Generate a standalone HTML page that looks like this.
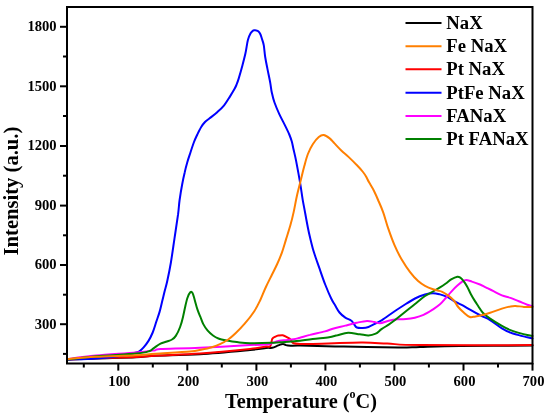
<!DOCTYPE html>
<html><head><meta charset="utf-8"><style>
html,body{margin:0;padding:0;background:#fff;}
body{width:550px;height:414px;overflow:hidden;}
svg{display:block;}
text{font-family:"Liberation Serif",serif;font-weight:bold;fill:#000;}
</style></head><body>
<svg width="550" height="414" viewBox="0 0 550 414">
<rect x="0" y="0" width="550" height="414" fill="#fff"/>
<g fill="none" stroke-width="2" stroke-linejoin="round" stroke-linecap="round">
<path d="M67.5,359.5 C72.2,359.3 84.6,358.9 96.0,358.5 C107.4,358.1 126.2,357.8 136.0,357.3 C145.8,356.9 144.3,356.3 155.0,355.8 C165.7,355.3 184.2,355.2 200.0,354.2 C215.8,353.2 239.0,351.0 250.0,350.0 C261.0,349.0 262.3,348.4 266.0,348.0 C269.7,347.6 270.1,348.2 272.2,347.8 C274.2,347.4 276.6,346.0 278.3,345.4 C280.1,344.8 281.4,343.9 282.7,343.9 C283.9,343.8 284.5,344.8 285.8,345.1 C287.1,345.4 288.3,345.6 290.7,345.7 C293.1,345.8 291.2,345.4 300.0,345.5 C308.8,345.6 327.2,346.2 343.6,346.6 C360.0,347.0 385.5,347.5 398.2,347.6 C410.9,347.7 409.7,347.3 420.0,347.0 C430.3,346.7 441.2,346.2 460.0,346.0 C478.8,345.8 520.4,345.6 532.5,345.5" stroke="#000000"/>
<path d="M67.5,359.5 C72.2,359.3 84.6,358.7 96.0,358.3 C107.4,357.9 125.3,357.6 136.0,357.1 C146.7,356.6 149.3,356.1 160.0,355.5 C170.7,354.9 185.0,354.5 200.0,353.4 C215.0,352.3 239.0,350.0 250.0,348.9 C261.0,347.8 262.6,347.1 266.0,346.6 C269.4,346.2 269.2,347.5 270.3,346.2 C271.4,344.9 271.4,340.4 272.3,338.8 C273.2,337.2 274.5,337.1 275.5,336.6 C276.5,336.1 277.1,335.8 278.3,335.6 C279.5,335.4 281.4,335.0 282.7,335.2 C284.0,335.4 285.3,336.2 286.4,336.8 C287.5,337.4 288.6,337.8 289.5,338.6 C290.4,339.4 291.1,340.7 291.8,341.5 C292.5,342.3 292.4,342.9 293.8,343.3 C295.2,343.7 297.3,343.8 300.0,343.9 C302.7,344.0 299.8,344.2 310.0,344.0 C320.2,343.8 348.2,342.7 361.1,342.6 C374.0,342.5 377.5,343.2 387.3,343.6 C397.1,344.0 395.8,344.9 420.0,345.1 C444.2,345.4 513.8,345.1 532.5,345.1" stroke="#FF0000"/>
<path d="M67.5,359.5 C72.2,359.3 87.2,359.0 96.0,358.4 C104.8,357.8 114.0,356.8 120.0,356.0 C126.0,355.2 128.8,354.3 132.0,353.6 C135.2,352.9 137.0,352.6 138.9,351.6 C140.8,350.6 141.8,349.5 143.4,347.7 C145.0,345.9 146.9,343.4 148.5,340.9 C150.1,338.4 151.4,335.6 152.7,332.5 C154.0,329.4 155.0,325.7 156.1,322.3 C157.2,318.9 158.5,315.5 159.5,312.1 C160.5,308.7 161.2,305.4 162.0,302.0 C162.8,298.6 163.7,295.2 164.5,291.8 C165.3,288.4 166.0,286.6 167.1,281.7 C168.2,276.8 169.7,269.7 170.9,262.5 C172.1,255.3 173.3,246.4 174.5,238.3 C175.7,230.2 177.2,220.6 178.1,214.2 C178.9,207.8 178.9,205.0 179.6,200.0 C180.3,195.0 181.3,188.8 182.2,184.2 C183.0,179.6 183.8,176.1 184.7,172.4 C185.5,168.7 186.3,165.6 187.3,162.2 C188.3,158.8 189.5,155.4 190.6,152.0 C191.7,148.6 192.9,144.9 194.0,142.0 C195.1,139.1 196.1,137.1 197.3,134.5 C198.6,131.9 200.2,128.6 201.5,126.5 C202.8,124.4 203.7,123.4 205.0,122.0 C206.3,120.6 207.6,119.9 209.6,118.3 C211.6,116.7 214.5,114.7 216.9,112.5 C219.3,110.3 221.9,108.0 224.1,105.3 C226.3,102.6 228.2,99.3 229.9,96.6 C231.6,93.9 233.2,91.2 234.3,89.3 C235.4,87.4 235.7,86.7 236.4,85.0 C237.1,83.3 237.7,81.9 238.6,78.9 C239.5,75.9 240.9,71.2 242.0,67.0 C243.1,62.8 244.4,58.0 245.4,53.5 C246.4,49.0 247.0,43.4 247.9,40.0 C248.8,36.6 249.7,34.9 250.6,33.3 C251.5,31.7 252.6,30.9 253.4,30.4 C254.2,29.9 254.8,30.2 255.6,30.4 C256.4,30.6 257.7,30.7 258.5,31.4 C259.3,32.1 259.9,33.2 260.5,34.5 C261.1,35.8 261.4,37.2 262.0,39.0 C262.6,40.8 263.3,42.4 263.8,45.4 C264.3,48.4 264.6,53.1 265.2,57.0 C265.8,60.9 266.5,64.2 267.4,68.6 C268.2,72.9 269.6,79.1 270.3,83.1 C271.0,87.1 271.1,89.3 271.8,92.5 C272.5,95.7 273.2,98.9 274.5,102.5 C275.8,106.1 277.5,110.2 279.3,114.1 C281.1,117.9 283.4,122.2 285.1,125.6 C286.8,129.0 288.2,131.8 289.3,134.5 C290.4,137.2 291.1,139.1 291.8,141.5 C292.5,143.9 292.8,146.0 293.5,149.2 C294.2,152.4 295.0,155.2 296.1,160.9 C297.2,166.6 299.1,176.8 300.2,183.4 C301.3,190.0 301.9,195.2 302.8,200.3 C303.7,205.4 304.5,209.3 305.3,213.8 C306.1,218.3 307.0,223.1 307.8,227.3 C308.6,231.5 309.5,235.4 310.4,239.1 C311.3,242.8 312.1,246.1 313.0,249.3 C313.9,252.5 315.0,255.4 316.0,258.5 C317.0,261.6 317.7,263.3 319.2,267.6 C320.7,271.9 323.2,279.4 325.2,284.5 C327.2,289.6 329.5,295.0 331.2,298.5 C332.9,302.0 333.7,303.0 335.1,305.3 C336.5,307.6 337.8,310.4 339.5,312.5 C341.2,314.6 343.4,316.3 345.3,317.6 C347.2,318.9 349.7,319.4 351.1,320.5 C352.6,321.6 353.0,322.9 354.0,324.1 C355.0,325.3 355.4,326.9 356.9,327.5 C358.3,328.1 360.8,328.1 362.7,328.0 C364.6,327.9 366.6,327.6 368.5,327.0 C370.4,326.4 372.4,325.1 374.3,324.1 C376.2,323.1 378.3,322.2 380.1,321.2 C381.9,320.2 382.5,319.7 385.0,318.0 C387.5,316.3 391.7,313.2 395.0,311.0 C398.3,308.8 401.7,306.6 405.0,304.5 C408.3,302.4 411.7,300.2 415.0,298.5 C418.3,296.8 422.0,295.4 425.0,294.5 C428.0,293.6 430.5,293.2 433.0,293.2 C435.5,293.2 437.6,293.8 440.0,294.4 C442.4,295.0 445.1,295.9 447.7,297.1 C450.3,298.4 452.9,300.5 455.5,301.9 C458.1,303.3 460.8,304.4 463.2,305.7 C465.6,307.0 467.0,307.9 470.0,309.6 C473.0,311.3 478.0,314.1 481.4,315.9 C484.8,317.6 486.7,318.0 490.1,320.1 C493.5,322.2 498.5,326.3 501.9,328.4 C505.3,330.5 507.6,331.5 510.4,332.6 C513.2,333.7 516.0,334.3 518.8,335.1 C521.6,335.9 525.0,336.7 527.3,337.3 C529.6,337.9 531.6,338.3 532.5,338.5" stroke="#0000FF"/>
<path d="M67.5,359.0 C72.2,358.4 84.6,356.7 96.0,355.6 C107.4,354.5 126.3,353.3 136.0,352.4 C145.7,351.5 150.1,350.9 154.2,350.4 C158.3,349.8 152.9,349.5 160.5,349.1 C168.1,348.7 185.1,348.5 200.0,347.8 C214.9,347.1 238.5,345.7 250.0,345.1 C261.5,344.5 264.6,344.8 269.0,344.2 C273.4,343.6 273.9,342.1 276.5,341.4 C279.1,340.7 281.6,340.5 284.5,340.2 C287.4,339.9 291.2,339.7 293.8,339.3 C296.4,338.9 297.3,338.4 300.0,337.7 C302.7,337.0 305.8,335.9 310.0,334.9 C314.2,333.8 321.1,332.5 325.0,331.4 C328.9,330.3 330.3,329.5 333.7,328.5 C337.1,327.5 341.4,326.6 345.3,325.6 C349.2,324.6 353.3,323.5 356.9,322.7 C360.5,321.9 364.1,321.0 367.0,320.9 C369.9,320.8 372.1,321.6 374.3,322.0 C376.5,322.4 377.7,323.4 380.1,323.2 C382.5,323.0 385.8,321.3 388.7,320.7 C391.6,320.1 394.5,319.6 397.4,319.3 C400.3,319.0 403.2,319.4 406.1,319.1 C409.0,318.9 411.9,318.5 414.8,317.8 C417.7,317.1 420.6,316.2 423.5,314.9 C426.4,313.6 429.4,311.7 432.2,309.9 C434.9,308.1 437.7,306.3 440.0,304.3 C442.3,302.3 443.9,300.2 445.8,298.0 C447.7,295.8 449.7,293.4 451.6,291.3 C453.5,289.2 455.6,287.1 457.4,285.5 C459.2,283.9 460.8,282.5 462.2,281.6 C463.6,280.7 464.5,280.1 466.1,280.1 C467.7,280.1 469.6,280.9 471.9,281.6 C474.2,282.3 477.7,283.6 480.0,284.5 C482.3,285.4 483.4,286.2 485.7,287.3 C487.9,288.4 490.8,289.9 493.5,291.2 C496.2,292.5 499.1,294.3 501.9,295.4 C504.7,296.5 507.6,296.9 510.4,297.9 C513.2,298.9 516.0,300.2 518.8,301.3 C521.6,302.4 525.0,303.9 527.3,304.7 C529.6,305.5 531.6,306.1 532.5,306.4" stroke="#FF00FF"/>
<path d="M67.5,359.5 C72.2,359.0 84.6,357.3 96.0,356.3 C107.4,355.3 127.2,354.5 136.0,353.6 C144.8,352.8 146.1,352.2 149.1,351.2 C152.1,350.2 152.3,349.1 154.2,347.8 C156.1,346.5 158.4,344.7 160.5,343.6 C162.6,342.6 165.0,342.2 166.9,341.5 C168.8,340.8 170.5,340.4 172.0,339.5 C173.5,338.6 174.5,338.0 175.8,335.9 C177.2,333.8 178.9,330.2 180.1,327.0 C181.3,323.8 182.2,320.3 183.0,316.9 C183.8,313.5 184.5,309.8 185.2,306.7 C185.9,303.6 186.6,300.4 187.4,298.0 C188.2,295.6 189.5,293.1 190.3,292.3 C191.2,291.5 191.8,291.8 192.5,293.0 C193.2,294.2 193.8,296.7 194.6,299.5 C195.4,302.3 196.5,306.7 197.5,309.6 C198.5,312.5 199.4,314.5 200.4,316.9 C201.4,319.3 202.1,321.8 203.3,324.1 C204.5,326.4 206.1,328.8 207.7,330.7 C209.3,332.6 211.2,334.2 213.0,335.5 C214.8,336.8 216.1,337.6 218.4,338.5 C220.8,339.4 224.0,340.0 227.1,340.6 C230.2,341.2 233.1,341.7 236.9,342.1 C240.7,342.5 244.2,343.1 250.0,343.2 C255.8,343.3 266.8,343.0 271.8,342.8 C276.8,342.6 275.9,342.5 280.0,342.2 C284.1,341.9 290.9,341.7 296.4,341.1 C301.8,340.6 307.2,339.5 312.7,338.9 C318.1,338.3 325.0,337.9 329.1,337.3 C333.2,336.7 334.3,335.9 337.5,335.2 C340.7,334.4 344.5,332.9 348.2,332.8 C351.9,332.7 356.4,333.9 359.8,334.3 C363.2,334.7 365.9,335.5 368.5,335.4 C371.1,335.3 373.5,334.6 375.7,333.6 C377.9,332.6 379.3,330.7 381.5,329.2 C383.7,327.7 386.4,326.1 388.7,324.6 C390.9,323.1 392.3,322.1 395.0,320.0 C397.7,317.9 401.7,314.7 405.0,312.0 C408.3,309.3 411.7,306.7 415.0,304.0 C418.3,301.3 422.0,298.1 425.0,296.0 C428.0,293.9 430.5,292.9 433.0,291.5 C435.5,290.1 437.9,288.7 440.0,287.4 C442.1,286.1 443.9,284.9 445.8,283.5 C447.7,282.1 449.7,280.3 451.6,279.2 C453.5,278.1 455.9,277.1 457.4,276.8 C458.8,276.6 459.3,277.1 460.3,277.7 C461.3,278.3 462.1,279.2 463.2,280.6 C464.3,282.1 465.8,284.1 467.1,286.4 C468.4,288.7 469.6,291.8 470.9,294.2 C472.2,296.6 473.5,298.8 474.8,300.9 C476.1,303.0 477.3,304.7 478.6,306.7 C479.9,308.7 480.9,310.8 482.8,312.8 C484.7,314.8 486.9,316.4 490.1,318.6 C493.3,320.8 498.5,323.9 501.9,325.8 C505.3,327.7 507.6,328.9 510.4,330.1 C513.2,331.3 516.0,332.1 518.8,332.9 C521.6,333.7 525.0,334.6 527.3,335.1 C529.6,335.6 531.6,335.9 532.5,336.0" stroke="#008000"/>
<path d="M67.5,359.0 C72.2,358.6 84.6,357.4 96.0,356.8 C107.4,356.2 126.1,355.7 136.0,355.2 C145.9,354.7 146.5,354.3 155.5,353.7 C164.5,353.1 182.4,352.2 190.0,351.5 C197.6,350.8 197.3,350.4 200.9,349.7 C204.5,349.0 208.5,348.2 211.8,347.2 C215.1,346.2 217.8,345.2 220.5,343.9 C223.2,342.6 225.6,341.3 228.2,339.5 C230.8,337.7 233.1,335.6 235.8,333.0 C238.6,330.4 241.6,327.3 244.7,323.7 C247.8,320.1 251.7,315.1 254.3,311.2 C256.9,307.3 258.2,304.5 260.1,300.5 C262.0,296.5 263.9,291.2 265.9,287.0 C267.8,282.8 269.9,278.8 271.8,275.0 C273.7,271.2 275.5,267.7 277.2,264.0 C278.9,260.3 280.4,256.8 281.9,252.6 C283.4,248.4 284.7,243.6 286.1,239.1 C287.5,234.6 289.0,230.0 290.3,225.5 C291.6,221.0 292.6,217.0 293.7,211.9 C294.8,206.8 295.9,200.2 297.1,195.0 C298.3,189.8 299.5,185.4 300.7,180.6 C301.9,175.8 303.1,170.5 304.3,166.1 C305.5,161.7 306.5,157.6 307.9,154.0 C309.3,150.4 311.0,147.1 312.8,144.3 C314.6,141.5 317.0,138.6 318.8,137.1 C320.6,135.6 321.8,134.9 323.6,135.1 C325.4,135.3 327.9,137.0 329.7,138.4 C331.5,139.8 332.5,141.3 334.5,143.4 C336.5,145.5 339.5,148.8 341.8,151.0 C344.1,153.2 346.0,154.5 348.5,156.9 C351.0,159.3 354.6,162.8 357.0,165.3 C359.4,167.8 361.5,170.1 363.0,172.0 C364.5,173.9 365.2,175.0 366.2,176.8 C367.2,178.6 367.9,180.3 369.2,182.6 C370.5,184.9 372.4,187.7 373.9,190.7 C375.4,193.7 376.8,196.9 378.3,200.5 C379.9,204.1 381.5,207.6 383.2,212.3 C384.9,217.0 386.4,223.2 388.3,228.7 C390.2,234.2 392.3,240.1 394.5,245.2 C396.7,250.3 399.1,255.1 401.7,259.5 C404.3,263.9 407.2,268.3 409.9,271.9 C412.6,275.5 415.6,278.8 418.1,281.1 C420.6,283.4 422.5,284.5 425.0,285.8 C427.5,287.1 430.8,288.4 433.0,289.2 C435.2,290.0 436.5,290.2 438.0,290.6 C439.5,291.0 440.5,291.0 442.2,291.8 C443.9,292.6 446.1,293.9 448.0,295.4 C449.9,296.8 452.1,298.6 453.8,300.5 C455.5,302.4 456.5,304.9 458.2,307.0 C459.9,309.1 462.1,311.1 464.0,312.8 C465.9,314.5 467.9,316.4 469.8,317.0 C471.7,317.6 473.4,316.7 475.6,316.4 C477.8,316.1 480.4,315.6 482.8,315.0 C485.2,314.4 486.9,313.9 490.1,312.8 C493.3,311.7 498.5,309.7 501.9,308.6 C505.3,307.5 508.1,306.8 510.4,306.4 C512.7,305.9 513.2,305.8 515.5,305.9 C517.8,306.0 521.1,306.7 523.9,306.9 C526.7,307.1 531.1,306.9 532.5,306.9" stroke="#FF7F00"/>
</g>
<g stroke="#000" stroke-width="2" fill="none">
<path d="M67,363.5 L67,7 L532.5,7 L532.5,363.5 Z" stroke-linejoin="miter"/>
<line x1="60" y1="26.8" x2="67" y2="26.8"/><line x1="63" y1="56.5" x2="67" y2="56.5"/><line x1="60" y1="86.3" x2="67" y2="86.3"/><line x1="63" y1="116.0" x2="67" y2="116.0"/><line x1="60" y1="146.0" x2="67" y2="146.0"/><line x1="63" y1="175.7" x2="67" y2="175.7"/><line x1="60" y1="205.6" x2="67" y2="205.6"/><line x1="63" y1="235.3" x2="67" y2="235.3"/><line x1="60" y1="265.0" x2="67" y2="265.0"/><line x1="63" y1="294.7" x2="67" y2="294.7"/><line x1="60" y1="324.2" x2="67" y2="324.2"/><line x1="63" y1="353.9" x2="67" y2="353.9"/><line x1="118.3" y1="363" x2="118.3" y2="370.6"/><line x1="187.3" y1="363" x2="187.3" y2="370.6"/><line x1="256.4" y1="363" x2="256.4" y2="370.6"/><line x1="325.4" y1="363" x2="325.4" y2="370.6"/><line x1="394.4" y1="363" x2="394.4" y2="370.6"/><line x1="463.5" y1="363" x2="463.5" y2="370.6"/><line x1="532.5" y1="363" x2="532.5" y2="370.6"/><line x1="83.8" y1="363" x2="83.8" y2="367.5"/><line x1="152.8" y1="363" x2="152.8" y2="367.5"/><line x1="221.8" y1="363" x2="221.8" y2="367.5"/><line x1="290.9" y1="363" x2="290.9" y2="367.5"/><line x1="359.9" y1="363" x2="359.9" y2="367.5"/><line x1="428.9" y1="363" x2="428.9" y2="367.5"/><line x1="498.0" y1="363" x2="498.0" y2="367.5"/>
</g>
<g font-size="14.6"><text x="56.6" y="31.1" text-anchor="end">1800</text><text x="56.6" y="90.6" text-anchor="end">1500</text><text x="56.6" y="150.3" text-anchor="end">1200</text><text x="56.6" y="209.9" text-anchor="end">900</text><text x="56.6" y="269.3" text-anchor="end">600</text><text x="56.6" y="328.5" text-anchor="end">300</text><text x="119.3" y="385.8" text-anchor="middle">100</text><text x="188.3" y="385.8" text-anchor="middle">200</text><text x="257.4" y="385.8" text-anchor="middle">300</text><text x="326.4" y="385.8" text-anchor="middle">400</text><text x="395.4" y="385.8" text-anchor="middle">500</text><text x="464.5" y="385.8" text-anchor="middle">600</text><text x="533.5" y="385.8" text-anchor="middle">700</text></g>
<g font-size="18.7"><line x1="405.5" y1="22.9" x2="441.5" y2="22.9" stroke="#000000" stroke-width="2"/><text x="446.3" y="28.9">NaX</text><line x1="405.5" y1="46.3" x2="441.5" y2="46.3" stroke="#FF7F00" stroke-width="2"/><text x="446.3" y="52.3">Fe NaX</text><line x1="405.5" y1="69.3" x2="441.5" y2="69.3" stroke="#FF0000" stroke-width="2"/><text x="446.3" y="75.3">Pt NaX</text><line x1="405.5" y1="92.8" x2="441.5" y2="92.8" stroke="#0000FF" stroke-width="2"/><text x="446.3" y="98.8">PtFe NaX</text><line x1="405.5" y1="116.0" x2="441.5" y2="116.0" stroke="#FF00FF" stroke-width="2"/><text x="446.3" y="122.0">FANaX</text><line x1="405.5" y1="139.0" x2="441.5" y2="139.0" stroke="#008000" stroke-width="2"/><text x="446.3" y="145.0">Pt FANaX</text></g>
<text x="225" y="408" font-size="20.3">Temperature (<tspan font-size="12" dy="-9.6">o</tspan><tspan dy="9.6">C)</tspan></text>
<text transform="translate(17.8,255.4) rotate(-90)" font-size="20.6">Intensity (a.u.)</text>
</svg>
</body></html>
